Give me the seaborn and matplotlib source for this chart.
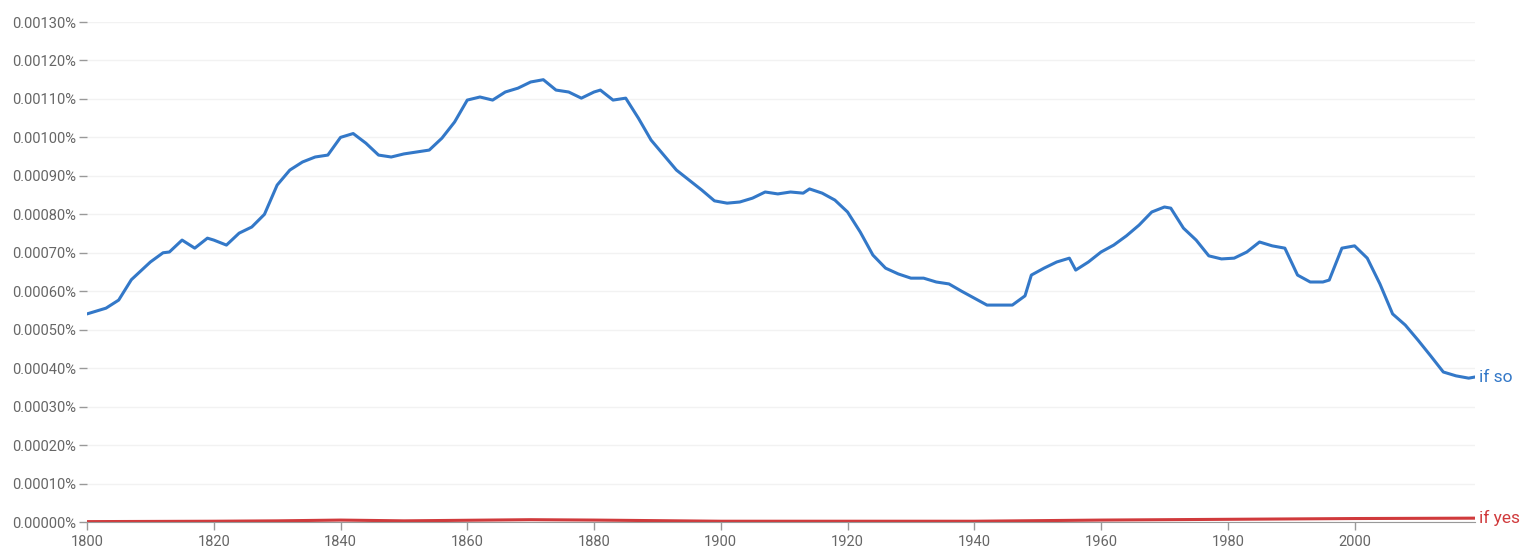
#%%
import pandas as pd
import numpy as np
import matplotlib.pyplot as plt
from matplotlib.ticker import FuncFormatter
import seaborn as sns

sns.set_style("white")
plt.rcParams['font.family'] = ['Roboto', 'DejaVu Sans']

#%%

# Values (percent of all bigrams)

years_so = [1800, 1803, 1805, 1807, 1810, 1812, 1813, 1815, 1817, 1819, 1820, 1822, 1824,
            1826, 1828, 1830, 1832, 1834, 1836, 1838, 1840, 1842, 1844, 1846, 1848, 1850,
            1852, 1854, 1856, 1858, 1860, 1862, 1864, 1866, 1868, 1870, 1872, 1874, 1876,
            1878, 1880, 1881, 1883, 1885, 1887, 1889, 1891, 1893, 1895, 1897, 1899, 1901,
            1903, 1905, 1907, 1909, 1911, 1913, 1914, 1916, 1918, 1920, 1922, 1924, 1926,
            1928, 1930, 1932, 1934, 1936, 1938, 1940, 1942, 1944, 1946, 1948, 1949, 1951,
            1953, 1955, 1956, 1958, 1960, 1962, 1964, 1966, 1968, 1970, 1971, 1973, 1975,
            1977, 1979, 1981, 1983, 1985, 1987, 1989, 1991, 1993, 1995, 1996, 1998, 2000,
            2002, 2004, 2006, 2008, 2010, 2012, 2014, 2016, 2018, 2019]
if_so = [0.000541, 0.000556, 0.000577, 0.000630, 0.000676, 0.000700, 0.000702, 0.000733,
         0.000712, 0.000738, 0.000733, 0.000720, 0.000751, 0.000767, 0.000800, 0.000876,
         0.000915, 0.000936, 0.000949, 0.000954, 0.001000, 0.001010, 0.000985, 0.000954,
         0.000949, 0.000957, 0.000962, 0.000967, 0.000998, 0.001040, 0.001097, 0.001105,
         0.001097, 0.001118, 0.001128, 0.001144, 0.001150, 0.001123, 0.001118, 0.001102,
         0.001118, 0.001123, 0.001097, 0.001102, 0.001050, 0.000993, 0.000954, 0.000915,
         0.000889, 0.000863, 0.000835, 0.000829, 0.000832, 0.000842, 0.000858, 0.000853,
         0.000858, 0.000855, 0.000866, 0.000855, 0.000837, 0.000806, 0.000754, 0.000694,
         0.000660, 0.000645, 0.000634, 0.000634, 0.000624, 0.000619, 0.000600, 0.000582,
         0.000564, 0.000564, 0.000564, 0.000588, 0.000642, 0.000660, 0.000676, 0.000686,
         0.000655, 0.000676, 0.000702, 0.000720, 0.000744, 0.000772, 0.000806, 0.000819,
         0.000816, 0.000764, 0.000733, 0.000692, 0.000684, 0.000686, 0.000702, 0.000728,
         0.000718, 0.000712, 0.000642, 0.000624, 0.000624, 0.000629, 0.000712, 0.000718,
         0.000686, 0.000619, 0.000541, 0.000512, 0.000473, 0.000432, 0.000390, 0.000380,
         0.000374, 0.000377]

years_yes = [1800, 1820, 1830, 1840, 1850, 1870, 1880, 1900, 1920, 1940, 1960, 1980, 2000, 2019]
if_yes = [0.000001, 0.000002, 0.000003, 0.000005, 0.000003, 0.000006, 0.000005, 0.000002,
          0.000002, 0.000002, 0.000005, 0.000007, 0.000009, 0.000010]

d = pd.concat([
    pd.DataFrame({'year': years_so, 'value': if_so, 'phrase': 'if so'}),
    pd.DataFrame({'year': years_yes, 'value': if_yes, 'phrase': 'if yes'}),
])

colors = {'if so': '#3378c8', 'if yes': '#d03a3c'}

#%%

# Make plot

fig = plt.figure(figsize=(15.36, 5.58), dpi=100)
ax = fig.add_axes([87 / 1536, 36 / 558, (1475 - 87) / 1536, 500 / 558])

sns.lineplot(data=d, x='year', y='value', hue='phrase', palette=colors,
             linewidth=2.2, legend=False, ax=ax,
             solid_joinstyle='round', solid_capstyle='round')

ax.set_xlim(1800, 2019)
ax.set_ylim(0, 0.0013)
ax.set_xticks(np.arange(1800, 2001, 20))
ax.set_yticks(np.arange(0, 0.00131, 0.0001))
ax.yaxis.set_major_formatter(FuncFormatter(lambda v, p: f"{v:.5f}%"))
ax.set_xlabel('')
ax.set_ylabel('')

ax.grid(axis='y', color='#f2f2f2', linewidth=1)
ax.set_axisbelow(True)
for s in ['top', 'right', 'left']:
    ax.spines[s].set_visible(False)
ax.spines['bottom'].set_color('#999999')
ax.tick_params(axis='both', colors='#999999', labelcolor='#666666', labelsize=10.5,
               length=6, width=1, direction='out', left=True, bottom=True)
ax.tick_params(axis='y', pad=2)

# Series labels at the end of each line

ax.text(2019.6, if_so[-1], 'if so', color=colors['if so'], fontsize=12.5, va='center', ha='left')
ax.text(2019.6, if_yes[-1], 'if yes', color=colors['if yes'], fontsize=12.5, va='center', ha='left')

plt.savefig('out.png', dpi=100)
